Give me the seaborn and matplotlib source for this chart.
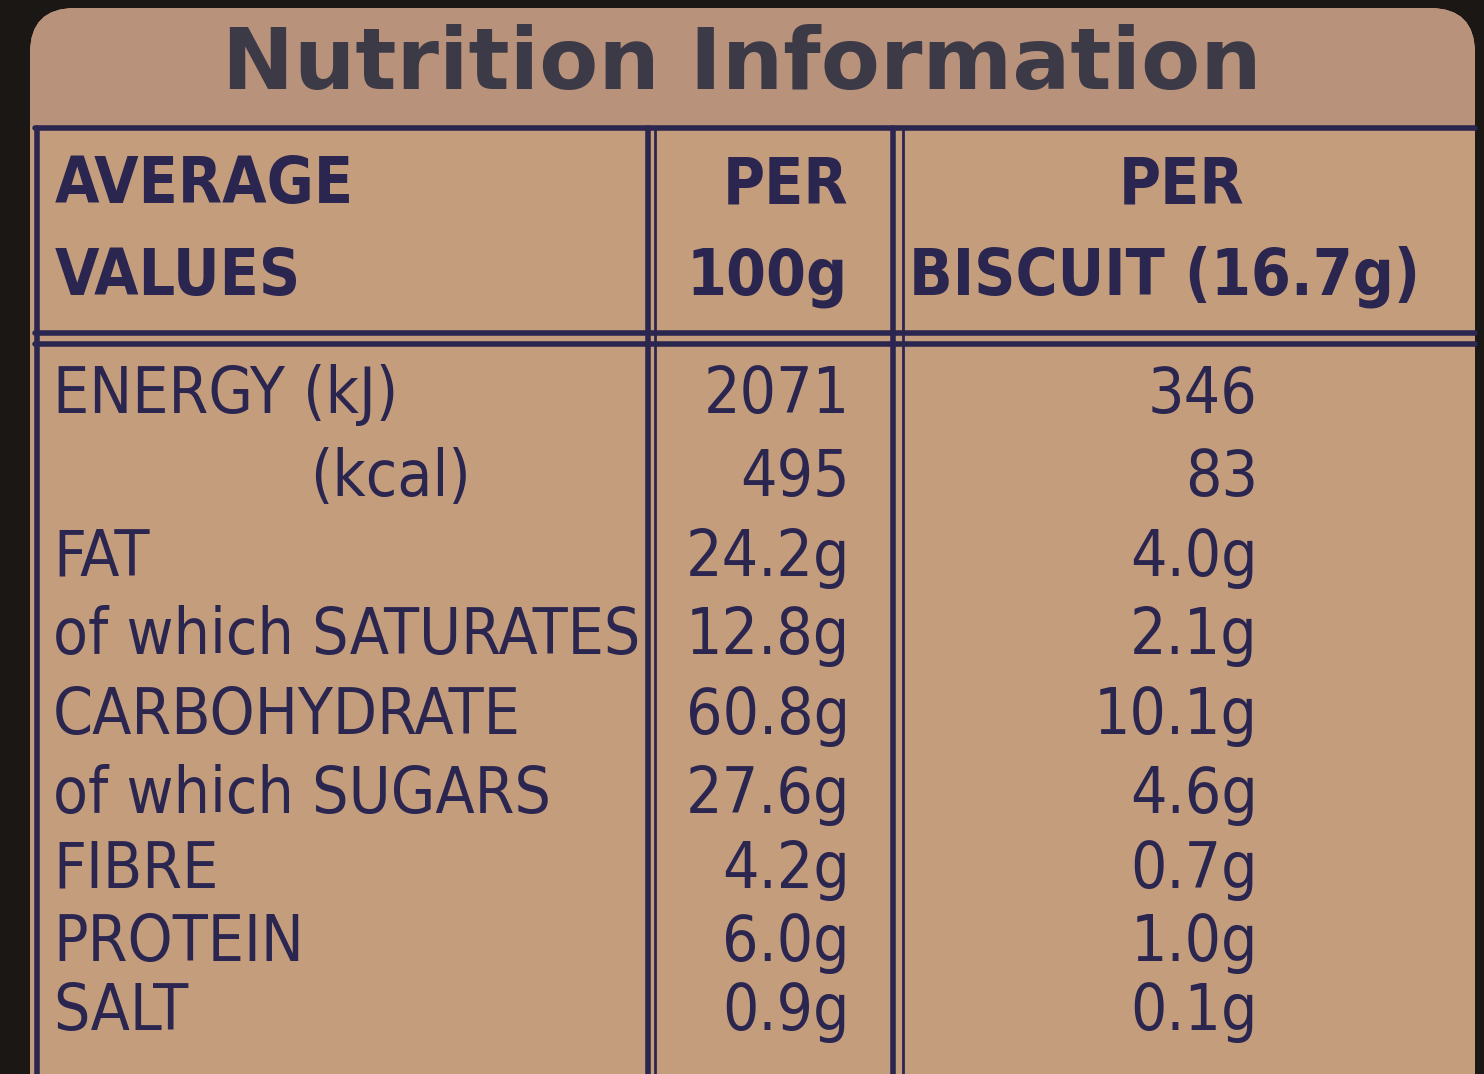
import matplotlib
matplotlib.use("Agg")
import matplotlib.pyplot as plt
import seaborn as sns
from matplotlib.patches import FancyBboxPatch, Rectangle

sns.set_theme(style="white")
plt.rcParams['font.family'] = ['DejaVu Sans']

title = "Nutrition Information"
header_left = ["AVERAGE", "VALUES"]
header_mid = ["PER", "100g"]
header_right = ["PER", "BISCUIT (16.7g)"]
nutrients = ["ENERGY (kJ)", "(kcal)", "FAT", "of which SATURATES", "CARBOHYDRATE",
             "of which SUGARS", "FIBRE", "PROTEIN", "SALT"]
per_100g = ["2071", "495", "24.2g", "12.8g", "60.8g", "27.6g", "4.2g", "6.0g", "0.9g"]
per_biscuit = ["346", "83", "4.0g", "2.1g", "10.1g", "4.6g", "0.7g", "1.0g", "0.1g"]

W, H = 1484, 1074
fig = plt.figure(figsize=(14.84, 10.74), dpi=100, facecolor="#1b1714")
ax = fig.add_axes([0, 0, 1, 1])
ax.set_xlim(0, W); ax.set_ylim(H, 0); ax.axis("off")

ink = "#2b2650"
ax.add_patch(FancyBboxPatch((30, 8), 1445, 1150, boxstyle="round,pad=0,rounding_size=45",
                            fc="#c49d7d", ec="none"))
ax.add_patch(FancyBboxPatch((30, 8), 1445, 118, boxstyle="round,pad=0,rounding_size=45",
                            fc="#b9927c", ec="none"))
ax.add_patch(Rectangle((30, 70), 1445, 56, fc="#b9927c", ec="none"))
ax.text(742, 66, title, ha="center", va="center", fontsize=62, fontweight="heavy",
        color="#3d3a47")

lw = 4
ax.plot([35, 1475], [128, 128], color=ink, lw=lw)
ax.plot([35, 1475], [333, 333], color=ink, lw=lw)
ax.plot([35, 1475], [344, 344], color=ink, lw=lw)
ax.plot([37, 37], [128, 1074], color=ink, lw=lw)
ax.plot([648, 648], [128, 1074], color=ink, lw=lw)
ax.plot([655, 655], [128, 1074], color=ink, lw=2)
ax.plot([893, 893], [128, 1074], color=ink, lw=lw)
ax.plot([903, 903], [128, 1074], color=ink, lw=2)

fs = 46
kw = dict(color=ink, fontsize=fs, fontweight="bold", va="center", fontstretch="condensed")
for i, (a, b, c) in enumerate(zip(header_left, header_mid, header_right)):
    y = 185 + i * 92
    ax.text(55, y, a, ha="left", **kw)
    ax.text(848, y, b, ha="right", **kw)
    ax.text(1182 if i == 0 else 1420, y, c, ha="center" if i == 0 else "right", **kw)

rows_y = [395, 478, 558, 636, 716, 795, 870, 943, 1012]
kw2 = dict(color=ink, fontsize=fs, va="center", fontstretch="condensed")
for y, n, v1, v2 in zip(rows_y, nutrients, per_100g, per_biscuit):
    x = 310 if n == "(kcal)" else 53
    ax.text(x, y, n, ha="left", **kw2)
    ax.text(850, y, v1, ha="right", **kw2)
    ax.text(1258, y, v2, ha="right", **kw2)

fig.savefig("out.png", dpi=100, facecolor=fig.get_facecolor())
